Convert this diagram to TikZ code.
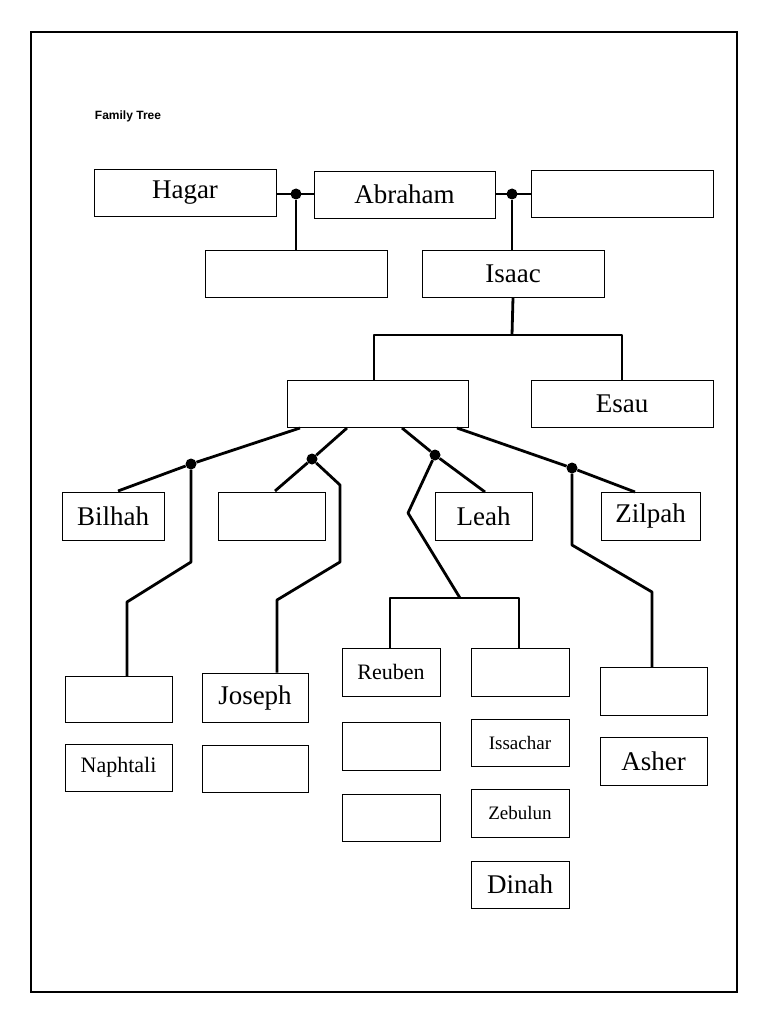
\documentclass[tikz,border=0pt]{standalone}
\usepackage{fontspec}
\setmainfont{Liberation Serif}
\newfontfamily\hdfont{Liberation Sans}
\begin{document}
\begin{tikzpicture}[x=1pt,y=-1pt,
  bx/.style={draw,line width=0.8pt,inner sep=0pt},
  big/.style={font=\fontsize{27}{30}\selectfont},
  med/.style={font=\fontsize{22}{26}\selectfont},
  sml/.style={font=\fontsize{19}{22}\selectfont},
  ln/.style={line width=2.8pt,line join=round},
  dt/.style={circle,fill,inner sep=0pt,minimum size=11pt}]
\useasboundingbox (0,0) rectangle (768,1024);
\draw[line width=1.2pt] (31,32) rectangle (737,992);
\node[font=\hdfont\bfseries\fontsize{12}{14}\selectfont] (title) at (128,116) {Family Tree};
\newcommand\bb[6]{\node[bx,#6,minimum width={#4-#2},minimum height={#5-#3}] (#1) at ({(#2+#4)/2},{(#3+#5)/2}) {};}
\newcommand\tb[7]{\node[bx,#6,minimum width={#4-#2},minimum height={#5-#3}] (#1) at ({(#2+#4)/2},{(#3+#5)/2}) {#7};}
\tb{hagar}{94}{169}{276}{216}{big}{Hagar}
\tb{abraham}{314}{171}{495}{218}{big}{Abraham}
\bb{tr}{531}{170}{713}{217}{}
\bb{ish}{205}{250}{387}{297}{}
\tb{isaac}{422}{250}{604}{297}{big}{Isaac}
\bb{jacob}{287}{380}{468}{427}{}
\tb{esau}{531}{380}{713}{427}{big}{Esau}
\tb{bilhah}{62}{492}{164}{540}{big}{Bilhah}
\bb{rachel}{218}{492}{325}{540}{}
\tb{leah}{435}{492}{532}{540}{big}{Leah}
\tb{zilpah}{601}{492}{700}{540}{big}{Zilpah}
\bb{dan}{65}{676}{172}{722}{}
\tb{naph}{65}{744}{172}{791}{med}{Naphtali}
\tb{joseph}{202}{673}{308}{722}{big}{Joseph}
\bb{benj}{202}{745}{308}{792}{}
\tb{reuben}{342}{648}{440}{696}{med}{Reuben}
\bb{simeon}{342}{722}{440}{770}{}
\bb{levi}{342}{794}{440}{841}{}
\bb{judah}{471}{648}{569}{696}{}
\tb{issa}{471}{719}{569}{766}{sml}{Issachar}
\tb{zeb}{471}{789}{569}{837}{sml}{Zebulun}
\tb{dinah}{471}{861}{569}{908}{big}{Dinah}
\bb{gad}{600}{667}{707}{715}{}
\tb{asher}{600}{737}{707}{785}{big}{Asher}
% top
\node[dt] (d1) at (296,194) {};
\node[dt] (d2) at (512,194) {};
\draw[ln] (hagar.east|-d1) -- (abraham.west|-d1);
\draw[ln] (d1) -- (d1|-ish.north);
\draw[ln] (abraham.east|-d2) -- (tr.west|-d2);
\draw[ln] (d2) -- (d2|-isaac.north);
\draw[ln] (isaac.south) -- (512,335) coordinate (c1);
\draw[ln] (374,380) -- (374,335) -- (622,335) -- (622,380);
% jacob's wives
\node[dt] (w1) at (191,464) {};
\node[dt] (w2) at (312,459) {};
\node[dt] (w3) at (435,455) {};
\node[dt] (w4) at (572,468) {};
\draw[ln] (300,428) -- (w1) -- (118,491);
\draw[ln] (w1) -- (191,562) -- (127,602) -- (127,676);
\draw[ln] (347,428) -- (w2) -- (275,491);
\draw[ln] (w2) -- (340,485) -- (340,562) -- (277,600) -- (joseph.north-|277,0);
\draw[ln] (402,428) -- (w3) -- (485,492);
\draw[ln] (w3) -- (408,513) -- (460,598);
\draw[ln] (390,648) -- (390,598) -- (519,598) -- (519,648);
\draw[ln] (457,428) -- (w4) -- (635,492);
\draw[ln] (w4) -- (572,545) -- (652,592) -- (652,667);
\end{tikzpicture}
\end{document}
